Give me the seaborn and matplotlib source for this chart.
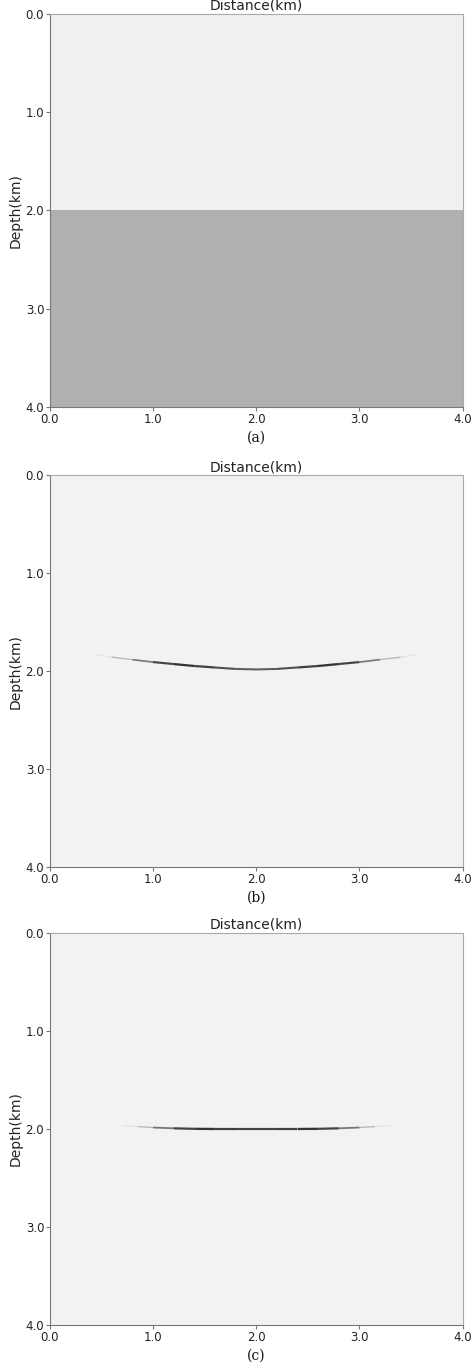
import numpy as np
import matplotlib.pyplot as plt
import seaborn as sns
from matplotlib.collections import LineCollection

sns.set_theme(style="white")
plt.rcParams['font.family'] = ['DejaVu Sans']

# panel (a) velocity model: two layers, boundary at 2.0 km
layer_tops = [0.0, 2.0]
layer_vals = [0.94, 0.69]   # gray level

# panel (b) reflector
refl_b_x = [0.45, 0.6, 0.8, 1.0, 1.2, 1.4, 1.6, 1.8, 2.0, 2.2, 2.4, 2.6, 2.8, 3.0, 3.2, 3.4, 3.55]
refl_b_z = [1.83, 1.855, 1.88, 1.905, 1.925, 1.945, 1.96, 1.975, 1.98, 1.975, 1.96, 1.945,
            1.925, 1.905, 1.88, 1.855, 1.83]
refl_b_w = [0.02, 0.15, 0.4, 0.7, 0.9, 0.85, 0.8, 0.7, 0.7, 0.7, 0.8, 0.85, 0.9, 0.7, 0.4, 0.15, 0.02]

# panel (c) reflector
refl_c_x = [0.7, 0.85, 1.0, 1.2, 1.4, 1.6, 1.8, 2.0, 2.2, 2.4, 2.6, 2.8, 3.0, 3.15, 3.3]
refl_c_z = [1.965, 1.975, 1.985, 1.993, 1.998, 2.0, 2.0, 2.0, 2.0, 2.0, 1.998, 1.993, 1.985, 1.975, 1.965]
refl_c_w = [0.02, 0.15, 0.4, 0.75, 0.9, 0.85, 0.8, 0.8, 0.8, 0.85, 0.9, 0.75, 0.4, 0.15, 0.02]

ticks = [0.0, 1.0, 2.0, 3.0, 4.0]
labels = ["0.0", "1.0", "2.0", "3.0", "4.0"]

fig = plt.figure(figsize=(4.74, 13.66), dpi=100)
rects = [[0.105, 0.702, 0.871, 0.288],
         [0.105, 0.365, 0.871, 0.287],
         [0.105, 0.030, 0.871, 0.287]]
captions = ["(a)", "(b)", "(c)"]
axes = [fig.add_axes(r) for r in rects]


def style(ax, cap):
    ax.set_xlim(0, 4)
    ax.set_ylim(4, 0)
    ax.set_xticks(ticks)
    ax.set_xticklabels(labels)
    ax.set_yticks(ticks)
    ax.set_yticklabels(labels)
    ax.tick_params(axis="both", labelsize=8.5, length=3, width=0.8,
                   color="#777777", labelcolor="#222222", pad=1, bottom=True, left=True)
    for s in ax.spines.values():
        s.set_color("#aaaaaa")
        s.set_linewidth(0.8)
    ax.spines["left"].set_color("#777777")
    ax.spines["bottom"].set_color("#777777")
    ax.set_title("Distance(km)", fontsize=10, pad=3, color="#222222")
    ax.set_ylabel("Depth(km)", fontsize=10, labelpad=2, color="#222222")
    ax.text(2.0, -0.06, cap, transform=ax.get_xaxis_transform(), ha="center", va="top",
            fontsize=10, family="DejaVu Serif", color="#111111")


# (a)
ax = axes[0]
img = np.array([[layer_vals[0]], [layer_vals[1]]])
ax.imshow(img, cmap="gray", vmin=0, vmax=1, aspect="auto",
          extent=[0, 4, 4, 0], interpolation="nearest")
style(ax, captions[0])


def reflector(ax, xs, zs, ws):
    ax.set_facecolor("#f2f2f2")
    xs, zs, ws = np.array(xs), np.array(zs), np.array(ws)
    pts = np.column_stack([xs, zs]).reshape(-1, 1, 2)
    segs = np.concatenate([pts[:-1], pts[1:]], axis=1)
    w = (ws[:-1] + ws[1:]) / 2
    cols = [(0.1, 0.1, 0.1, a) for a in w]
    lc = LineCollection(segs, colors=cols, linewidths=0.6 + 1.2 * w, capstyle="butt")
    ax.add_collection(lc)


reflector(axes[1], refl_b_x, refl_b_z, refl_b_w)
style(axes[1], captions[1])
reflector(axes[2], refl_c_x, refl_c_z, refl_c_w)
style(axes[2], captions[2])

fig.savefig("out.png", dpi=100)
